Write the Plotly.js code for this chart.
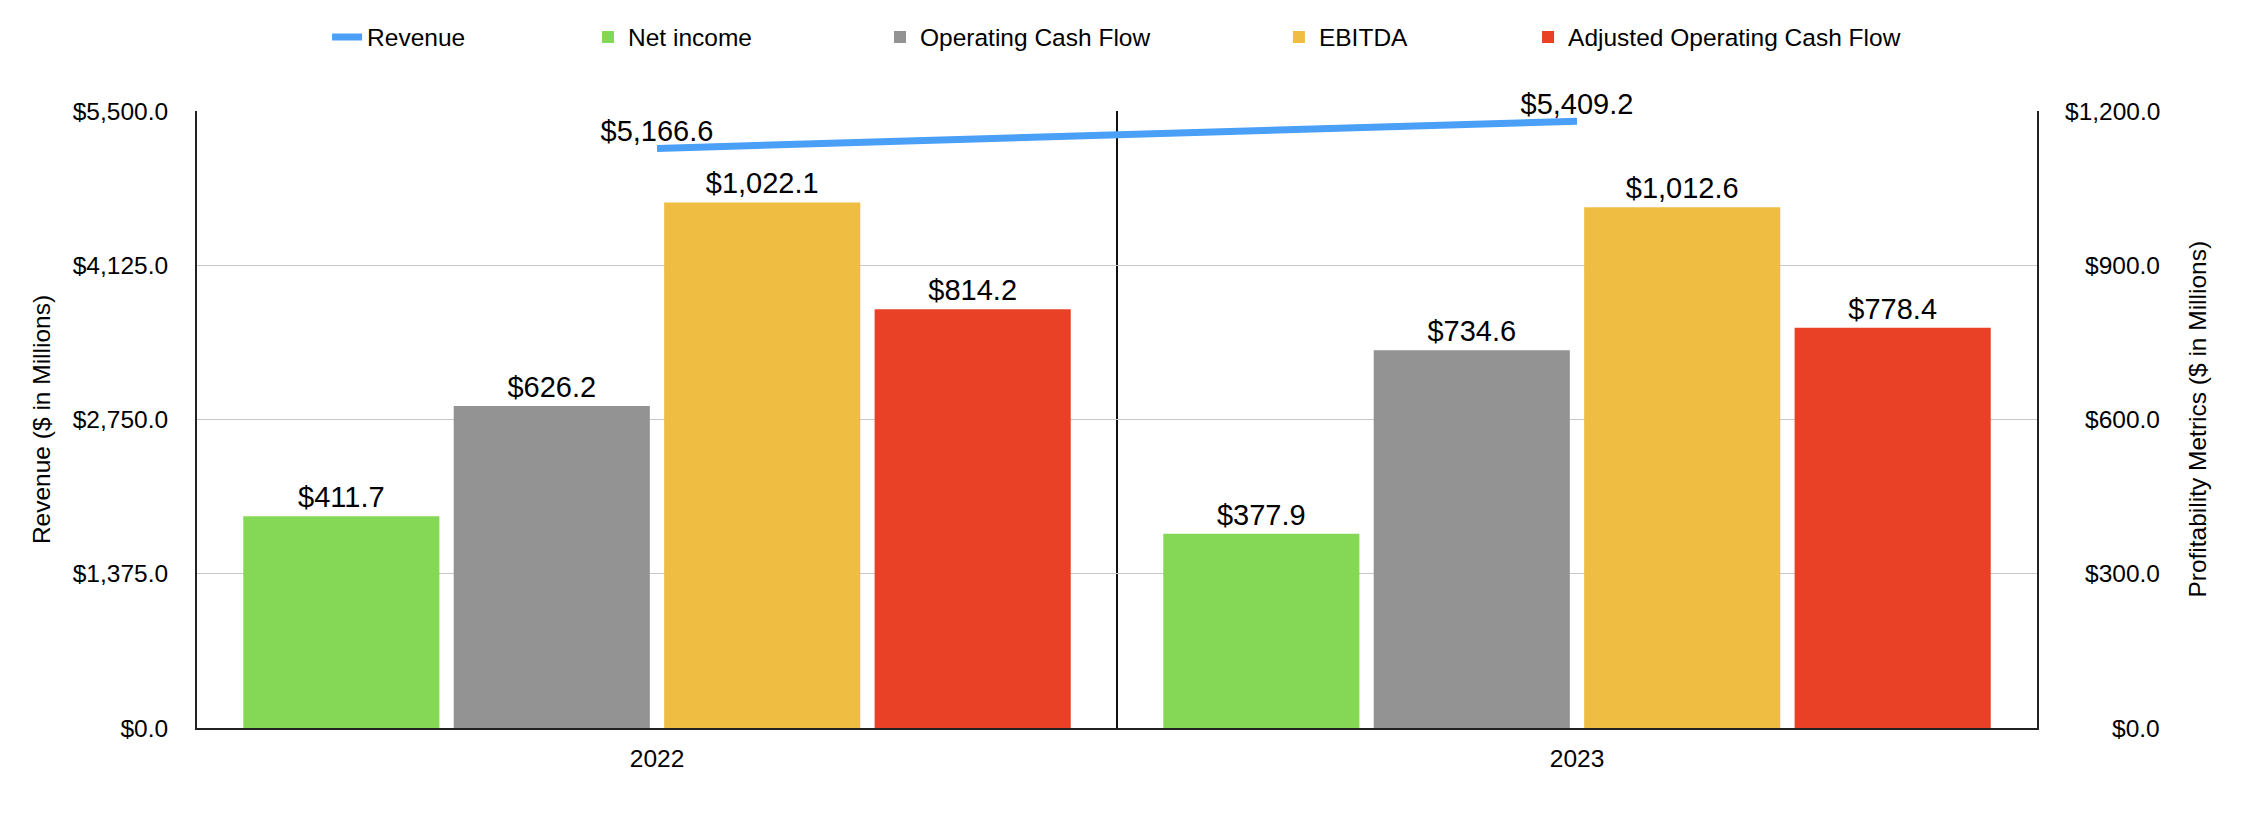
<!DOCTYPE html>
<html>
<head>
<meta charset="utf-8">
<script src="https://cdn.plot.ly/plotly-3.0.1.min.js"></script>
<style>
  html, body { margin: 0; padding: 0; background: #fff; }
  #chart { width: 2244px; height: 814px; }
</style>
</head>
<body>
<div id="chart"></div>
<script>
var years = ['2022', '2023'];
var revenue = [5166.6, 5409.2];
var netIncome = [411.7, 377.9];
var opCashFlow = [626.2, 734.6];
var ebitda = [1022.1, 1012.6];
var adjOpCashFlow = [814.2, 778.4];

var leftTicks = [0, 1375, 2750, 4125, 5500];
var rightTicks = [0, 300, 600, 900, 1200];

var FONT = 'Liberation Sans, Arial, Helvetica, sans-serif';

function money(v) {
    return '$' + v.toLocaleString('en-US', {minimumFractionDigits: 1, maximumFractionDigits: 1});
}

function barTrace(name, values, color, legendId) {
    return {
        type: 'bar',
        name: name,
        x: years,
        y: values,
        yaxis: 'y2',
        legend: legendId,
        showlegend: true,
        marker: {color: color},
        texttemplate: '$%{y:,.1f}',
        textposition: 'outside',
        textfont: {size: 29, color: '#000', family: FONT},
        cliponaxis: false,
        hoverinfo: 'none'
    };
}

var lineTrace = {
    type: 'scatter',
    mode: 'lines+text',
    name: 'Revenue',
    x: years,
    y: revenue,
    legend: 'legend',
    showlegend: true,
    line: {color: '#4a9ff7', width: 7},
    marker: {size: 12},
    texttemplate: '$%{y:,.1f}',
    textposition: 'top center',
    textfont: {size: 29, color: '#000', family: FONT},
    cliponaxis: false,
    hoverinfo: 'none'
};

var data = [
    lineTrace,
    barTrace('Net income', netIncome, '#84d855', 'legend2'),
    barTrace('Operating Cash Flow', opCashFlow, '#939393', 'legend3'),
    barTrace('EBITDA', ebitda, '#eebd42', 'legend4'),
    barTrace('Adjusted Operating Cash Flow', adjOpCashFlow, '#e94125', 'legend5')
];

function legendAt(x) {
    return {
        orientation: 'h',
        x: x,
        xanchor: 'left',
        y: 1.12,
        yanchor: 'middle',
        font: {size: 24.5, color: '#000', family: FONT},
        bgcolor: 'rgba(0,0,0,0)'
    };
}

var annotations = rightTicks.map(function (v) {
    return {
        xref: 'paper', x: 1.0679, xanchor: 'right',
        yref: 'y2', y: v, yanchor: 'middle',
        text: money(v),
        showarrow: false,
        font: {size: 24.5, color: '#000', family: FONT}
    };
});
annotations.push({
    xref: 'paper', x: 1.087, xanchor: 'center',
    yref: 'paper', y: 0.5, yanchor: 'middle',
    text: 'Profitability Metrics ($ in Millions)',
    textangle: -90,
    showarrow: false,
    font: {size: 24.5, color: '#000', family: FONT}
});

var layout = {
    width: 2244,
    height: 814,
    margin: {l: 197, r: 207, t: 111, b: 86},
    paper_bgcolor: '#fff',
    plot_bgcolor: '#fff',
    font: {family: FONT, color: '#000', size: 24.5},
    showlegend: true,
    barmode: 'group',
    bargap: 0.085,
    bargroupgap: 0.068,
    xaxis: {
        type: 'category',
        tickson: 'boundaries',
        ticks: '',
        showgrid: true,
        gridcolor: '#111',
        gridwidth: 1.5,
        showline: true,
        linecolor: '#222',
        linewidth: 2,
        tickfont: {size: 24.5, color: '#000'},
        ticklabelstandoff: 8
    },
    yaxis: {
        range: [0, 5500],
        tickvals: leftTicks,
        tickformat: '$,.1f',
        ticks: '',
        showgrid: true,
        gridcolor: '#c8c8c8',
        gridwidth: 1,
        zeroline: false,
        showline: true,
        linecolor: '#222',
        linewidth: 2,
        tickfont: {size: 24.5, color: '#000'},
        ticklabelstandoff: 22,
        title: {text: 'Revenue ($ in Millions)', font: {size: 24.5, color: '#000'}, standoff: 15}
    },
    yaxis2: {
        overlaying: 'y',
        side: 'right',
        range: [0, 1200],
        showgrid: false,
        zeroline: false,
        showline: true,
        linecolor: '#222',
        linewidth: 2,
        ticks: '',
        showticklabels: false
    },
    legend: legendAt(0.0707),
    legend2: legendAt(0.2125),
    legend3: legendAt(0.3712),
    legend4: legendAt(0.588),
    legend5: legendAt(0.7234),
    annotations: annotations,
    hovermode: false
};

Plotly.newPlot('chart', data, layout, {displayModeBar: false, staticPlot: true});
</script>
</body>
</html>
